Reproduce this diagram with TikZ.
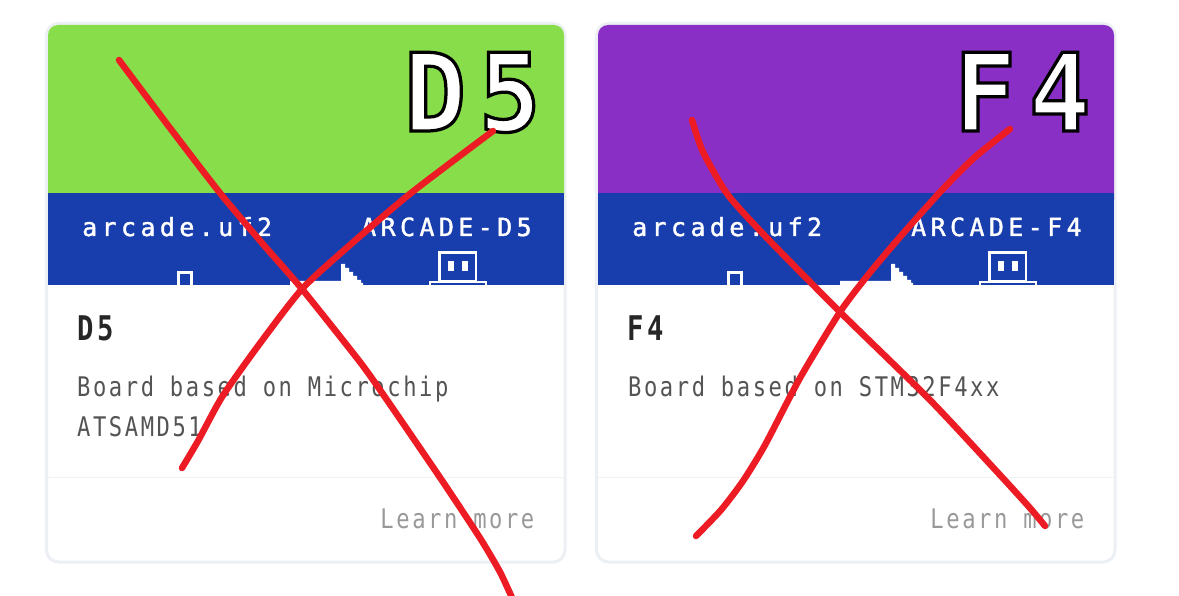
\documentclass[tikz,border=0pt]{standalone}
\usepackage{fontspec}
\setmainfont{DejaVu Sans Mono}
\newfontfamily\bodyfont[FakeStretch=0.82,LetterSpace=9.5]{DejaVu Sans Mono}
\newfontfamily\headfont[FakeStretch=0.8,LetterSpace=11]{DejaVu Sans Mono Bold}
\newfontfamily\pixelfont[FakeBold=1.5,LetterSpace=17.5]{DejaVu Sans Mono}
\newfontfamily\bigfont[FakeBold=3,LetterSpace=12,FakeStretch=0.95]{DejaVu Sans Mono Bold}

\definecolor{cardedge}{HTML}{ECEFF3}
\definecolor{cardline}{HTML}{F1F2F4}
\definecolor{bandblue}{HTML}{183EAE}
\definecolor{leafgreen}{HTML}{88DD4A}
\definecolor{boardpurple}{HTML}{8A2FC6}
\definecolor{inkred}{HTML}{ED1C24}

\tikzset{
  pixeltext/.style={inner sep=0pt, anchor=base west, text=white,
    font=\pixelfont\fontsize{25}{30}\selectfont},
  bigtext/.style={inner sep=0pt, anchor=base west, text=white,
    font=\bigfont\fontsize{108}{120}\selectfont},
  headtext/.style={inner sep=0pt, anchor=base west, text=black!85,
    font=\headfont\fontsize{34}{40}\selectfont},
  bodytext/.style={inner sep=0pt, anchor=base west, text=black!67,
    font=\bodyfont\fontsize{27}{32}\selectfont},
  moretext/.style={inner sep=0pt, anchor=base east, text=black!40,
    font=\bodyfont\fontsize{27}{32}\selectfont},
  pixelline/.style={draw=white, line width=2.5pt},
  redstroke/.style={draw=inkred, line width=6.5pt, line cap=round, line join=round}
}

% white fill, black edge for the big letters
\newcommand{\whiteblack}[1]{\special{pdf:bcolor [1 1 1] [0 0 0]}#1\special{pdf:ecolor}}

% #1 name, #2 colour, #3 big text, #4 volume label, #5 heading
\newcommand{\boardcard}[5]{
  % Card outline and colour bands
  \draw[cardedge, line width=3pt, fill=white, rounded corners=12pt] (46.5,23.5) rectangle (565,562);
  \fill[#2, rounded corners=10pt] (48,25) rectangle (564,210);
  \fill[bandblue] (48,193) rectangle (564,285);
  \draw[cardline, line width=1pt] (48,477.5) -- (564,477.5);
  % Pixel art in the band
  \draw[pixelline] (178.5,285) -- (178.5,272.5) -- (191.5,272.5) -- (191.5,285);
  \fill[white] (290,285) -- (290,281) -- (341,281) -- (341,264) -- (345,264) -- (345,268) -- (349,268) -- (349,272)
    -- (353,272) -- (353,276) -- (357,276) -- (357,280) -- (361,280) -- (361,283) -- (363,283) -- (363,285) -- cycle;
  \draw[pixelline] (439.5,281) rectangle (476,252.5);
  \fill[white] (448,261) rectangle (454,271);
  \fill[white] (462,261) rectangle (468,271);
  \draw[white, line width=1.5pt] (430,285) -- (430,282) -- (486,282) -- (486,285);
  % Texts
  \node[bigtext] (#1big) at (404,131) {\whiteblack{#3}};
  \node[pixeltext] (#1file) at (82,236) {arcade.uf2};
  \node[pixeltext] (#1vol) at (361,236) {#4};
  \node[headtext] (#1head) at (77,341) {#5};
  \node[moretext] (#1more) at (534.5,528) {Learn more};
}

\begin{document}
\begin{tikzpicture}[x=1pt, y=-1pt]
  \clip (0,0) rectangle (1179,596);
  \fill[white] (0,0) rectangle (1179,596);

  % Left card
  \boardcard{dfive}{leafgreen}{D5}{ARCADE-D5}{D5}
  \node[bodytext] (dfivetextone) at (77,396) {Board based on Microchip};
  \node[bodytext] (dfivetexttwo) at (77,436) {ATSAMD51};

  % Right card
  \begin{scope}[xshift=550pt]
    \boardcard{ffour}{boardpurple}{F4}{ARCADE-F4}{F4}
    \node[bodytext] (ffourtext) at (78,396) {Board based on STM32F4xx};
  \end{scope}

  % Red crosses over the cards
  \draw[redstroke] plot[smooth, tension=0.4] coordinates {(119,60) (170,128) (220,193) (262,243) (302,289)
    (360,362) (387,400) (441,479) (480,538) (500,572) (513,600)};
  \draw[redstroke] plot[smooth, tension=0.4] coordinates {(493,131) (411,193) (350,245) (302,289)
    (258,346) (222,397) (198,441) (182,468)};
  \draw[redstroke] plot[smooth, tension=0.4] coordinates {(692,120) (703,152) (728,195) (767,238)
    (840,312) (930,400) (1000,475) (1030,508) (1045,526)};
  \draw[redstroke] plot[smooth, tension=0.4] coordinates {(1010,129) (975,157) (942,190) (900,237) (868,275)
    (840,312) (800,378) (765,445) (743,481) (721,510) (696,536)};
\end{tikzpicture}
\end{document}
